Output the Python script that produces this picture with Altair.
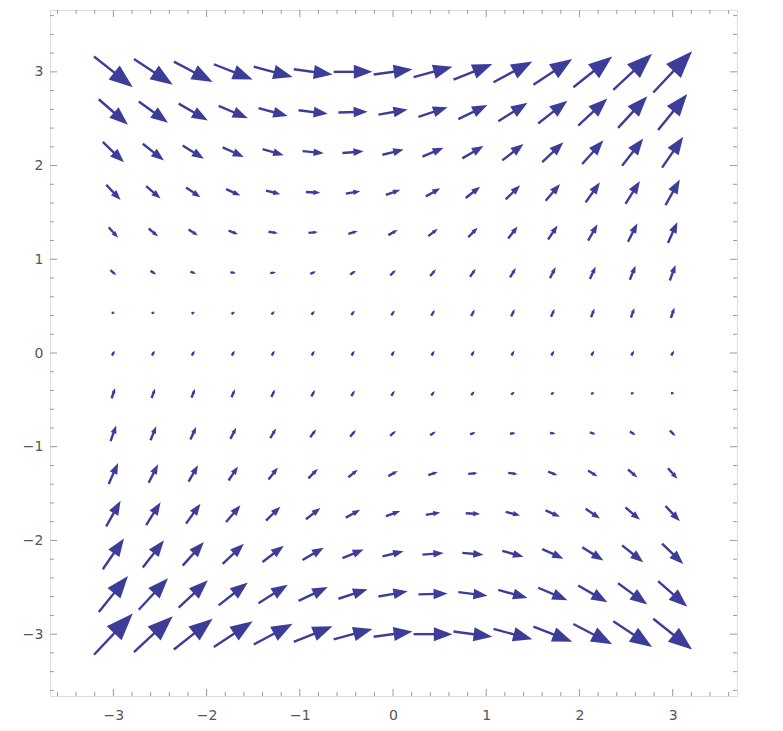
import altair as alt
import pandas as pd
import numpy as np

# grid positions (15 x 15 sample points)
grid_x = [-3.0, -2.571, -2.143, -1.714, -1.286, -0.857, -0.429, 0.0, 0.429, 0.857, 1.286, 1.714, 2.143, 2.571, 3.0]
grid_y = [3.0, 2.571, 2.143, 1.714, 1.286, 0.857, 0.429, 0.0, -0.429, -0.857, -1.286, -1.714, -2.143, -2.571, -3.0]

# horizontal component per row (top to bottom)
u_rows = [9.7, 7.3, 5.3, 3.6, 2.35, 1.43, 0.88, 0.7, 0.88, 1.43, 2.35, 3.6, 5.3, 7.3, 9.7]

# vertical component, row by row (top row first, columns left to right)
v_rows = [
    [-7.7, -6.4, -5.1, -3.8, -2.6, -1.3, 0.0, 1.3, 2.6, 3.9, 5.2, 6.4, 7.7, 9.0, 10.3],
    [-6.4, -5.3, -4.2, -3.1, -2.0, -0.9, 0.2, 1.3, 2.4, 3.5, 4.6, 5.7, 6.8, 7.9, 9.0],
    [-5.1, -4.2, -3.3, -2.4, -1.5, -0.5, 0.4, 1.3, 2.2, 3.1, 4.1, 5.0, 5.9, 6.8, 7.7],
    [-3.8, -3.1, -2.4, -1.6, -0.9, -0.2, 0.6, 1.3, 2.0, 2.8, 3.5, 4.2, 5.0, 5.7, 6.4],
    [-2.6, -2.0, -1.5, -0.9, -0.35, 0.2, 0.75, 1.3, 1.85, 2.4, 2.95, 3.5, 4.1, 4.6, 5.2],
    [-1.3, -0.9, -0.5, -0.17, 0.2, 0.57, 0.93, 1.3, 1.67, 2.0, 2.4, 2.8, 3.1, 3.5, 3.9],
    [0.0, 0.2, 0.38, 0.57, 0.75, 0.93, 1.12, 1.3, 1.48, 1.67, 1.85, 2.0, 2.2, 2.4, 2.6],
    [1.3, 1.3, 1.3, 1.3, 1.3, 1.3, 1.3, 1.3, 1.3, 1.3, 1.3, 1.3, 1.3, 1.3, 1.3],
    [2.6, 2.4, 2.2, 2.0, 1.85, 1.67, 1.48, 1.3, 1.12, 0.93, 0.75, 0.57, 0.38, 0.2, 0.0],
    [3.9, 3.5, 3.1, 2.8, 2.4, 2.0, 1.67, 1.3, 0.93, 0.57, 0.2, -0.17, -0.5, -0.9, -1.3],
    [5.2, 4.6, 4.1, 3.5, 2.95, 2.4, 1.85, 1.3, 0.75, 0.2, -0.35, -0.9, -1.5, -2.0, -2.6],
    [6.4, 5.7, 5.0, 4.2, 3.5, 2.8, 2.0, 1.3, 0.6, -0.2, -0.9, -1.6, -2.4, -3.1, -3.8],
    [7.7, 6.8, 5.9, 5.0, 4.1, 3.1, 2.2, 1.3, 0.4, -0.5, -1.5, -2.4, -3.3, -4.2, -5.1],
    [9.0, 7.9, 6.8, 5.7, 4.6, 3.5, 2.4, 1.3, 0.2, -0.9, -2.0, -3.1, -4.2, -5.3, -6.4],
    [10.3, 9.0, 7.7, 6.4, 5.2, 3.9, 2.6, 1.3, 0.0, -1.3, -2.6, -3.8, -5.1, -6.4, -7.7],
]

major_ticks = [-3, -2, -1, 0, 1, 2, 3]
minor_ticks = [round(t, 1) for t in np.arange(-3.6, 3.61, 0.2) if abs(t - round(t)) > 1e-6]

# layout
W, H = 687, 686
xdom = [-3.68, 3.69]
ydom = [-3.66, 3.66]
pxx = W / (xdom[1] - xdom[0])
pxy = H / (ydom[1] - ydom[0])
PX_PER_UNIT = 4.0   # arrow length in pixels per unit of magnitude
HEAD_FRAC = 0.48
COLOR = "#3d3d99"

rows = []
for j, y in enumerate(grid_y):
    for k, x in enumerate(grid_x):
        u = u_rows[j]
        v = v_rows[j][k]
        mag = float(np.hypot(u, v))
        L = PX_PER_UNIT * mag
        dxp, dyp = u / mag, v / mag
        tail_x = x - 0.5 * L * dxp / pxx
        tail_y = y - 0.5 * L * dyp / pxy
        tip_x = x + 0.5 * L * dxp / pxx
        tip_y = y + 0.5 * L * dyp / pxy
        hl = HEAD_FRAC * L
        send_x = tip_x - 0.8 * hl * dxp / pxx
        send_y = tip_y - 0.8 * hl * dyp / pxy
        ang = float(np.degrees(np.arctan2(u, v))) % 360
        rows.append(dict(tail_x=tail_x, tail_y=tail_y, tip_x=tip_x, tip_y=tip_y,
                         send_x=send_x, send_y=send_y, ang=ang, size=hl * hl))
df = pd.DataFrame(rows)

xs = alt.Scale(domain=xdom, nice=False, zero=False)
ys = alt.Scale(domain=ydom, nice=False, zero=False)

AX = dict(values=major_ticks, ticks=False, domain=False, grid=False,
          labelFont="DejaVu Sans", labelFontSize=14, labelColor="#555555",
          title=None, format="d")
axis_x = alt.Axis(labelPadding=12, **AX)
axis_y = alt.Axis(labelPadding=7, **AX)

shafts = alt.Chart(df).mark_rule(color=COLOR, strokeWidth=2.4, strokeCap="butt").encode(
    x=alt.X("tail_x:Q", scale=xs, axis=axis_x),
    y=alt.Y("tail_y:Q", scale=ys, axis=axis_y),
    x2="send_x:Q",
    y2="send_y:Q",
)

head_path = "M0,0 L0.75,2 L-0.75,2 Z"
heads = alt.Chart(df).mark_point(shape=head_path, filled=True, color=COLOR, opacity=1,
                                 strokeWidth=0).encode(
    x=alt.X("tip_x:Q", scale=xs, axis=axis_x),
    y=alt.Y("tip_y:Q", scale=ys, axis=axis_y),
    angle=alt.Angle("ang:Q", scale=None),
    size=alt.Size("size:Q", scale=None),
)

tick_df = pd.DataFrame(
    [dict(t=t, kind="major") for t in major_ticks] + [dict(t=t, kind="minor") for t in minor_ticks]
)
TICK_COLOR = "#9a9a9a"


def tick_layers(kind, length):
    d = tick_df[tick_df.kind == kind]
    base = alt.Chart(d).mark_rule(color=TICK_COLOR, strokeWidth=1)
    bottom = base.encode(x=alt.X("t:Q", scale=xs, axis=axis_x), y=alt.value(H), y2=alt.value(H - length))
    top = base.encode(x=alt.X("t:Q", scale=xs, axis=axis_x), y=alt.value(0), y2=alt.value(length))
    left = base.encode(y=alt.Y("t:Q", scale=ys, axis=axis_y), x=alt.value(0), x2=alt.value(length))
    right = base.encode(y=alt.Y("t:Q", scale=ys, axis=axis_y), x=alt.value(W), x2=alt.value(W - length))
    return [bottom, top, left, right]


layers = [shafts, heads] + tick_layers("major", 7) + tick_layers("minor", 4)

chart = alt.layer(*layers).properties(
    width=W, height=H,
    autosize=alt.AutoSizeParams(type="none"),
    padding={"left": 42, "top": 2, "right": 10, "bottom": 30},
).configure_view(stroke="#9a9a9a", strokeWidth=1.2).configure(background="white")

chart.save("out.html", embed_options={"renderer": "svg", "actions": False})
